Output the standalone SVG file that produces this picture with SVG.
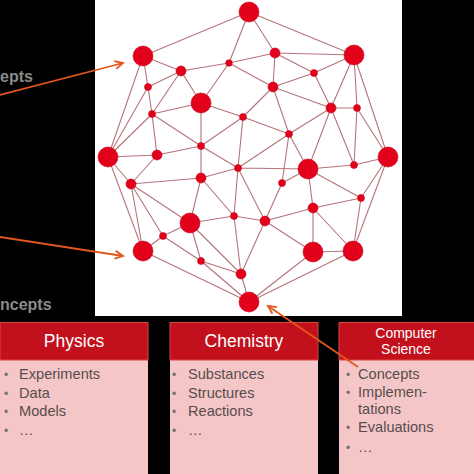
<svg xmlns="http://www.w3.org/2000/svg" width="474" height="474" viewBox="0 0 474 474">
<style>
.e{stroke:#b5737a;stroke-width:1.1;fill:none}
.n{fill:#e2001a;stroke:#c8001a;stroke-width:0.6}
.ar{stroke:#e2561f;stroke-width:1.8;fill:none}
.side{font-family:"Liberation Sans",Arial,sans-serif;font-weight:bold;font-size:16px;fill:#8a8a8a}
.hd{fill:#c2101d;stroke:#d9463f;stroke-width:1}
.bd{fill:#f5c6c7}
.ht{font-family:"Liberation Sans",Arial,sans-serif;font-size:17.5px;fill:#fff;text-anchor:middle}
.hs{font-family:"Liberation Sans",Arial,sans-serif;font-size:14px;fill:#fff;text-anchor:middle}
.bt{font-family:"Liberation Sans",Arial,sans-serif;font-size:14.6px;fill:#574d4d}
.bl{font-family:"Liberation Sans",Arial,sans-serif;font-size:12px;fill:#7a7070}
</style>
<defs>
<marker id="ah" markerUnits="userSpaceOnUse" markerWidth="12" markerHeight="12" refX="9" refY="5" orient="auto">
<path d="M1,1 L9,5 L1,9" fill="none" stroke="#e2561f" stroke-width="1.8"/>
</marker>
</defs>
<rect x="0" y="0" width="474" height="474" fill="#000"/>
<rect x="95" y="0" width="307" height="316" fill="#fff"/>
<text class="side" x="0" y="82">epts</text>
<text class="side" x="0" y="310">ncepts</text>

<g id="edges">
<path class="e" d="M249,12L143,56 M249,12L229,63 M249,12L275,53 M249,12L354,55
M143,56L181,71 M143,56L148,87 M143,56L108,157
M354,55L275,53 M354,55L314,73 M354,55L331,108 M354,55L357,108 M354,55L388,157
M108,157L148,87 M108,157L152,114 M108,157L157,155 M108,157L131,184 M108,157L143,251
M388,157L357,108 M388,157L354,165 M388,157L361,198 M388,157L353,251
M143,251L131,184 M143,251L163,236 M143,251L249,302
M353,251L361,198 M353,251L313,208 M353,251L313,252 M353,251L249,302
M249,302L201,261 M249,302L241,274 M249,302L313,252
M201,103L181,71 M201,103L229,63 M201,103L152,114 M201,103L243,117 M201,103L201,146
M308,169L238,168 M308,169L289,134 M308,169L331,108 M308,169L282,183 M308,169L354,165 M308,169L313,208 M308,169L361,198
M190,223L131,184 M190,223L201,178 M190,223L234,216 M190,223L163,236 M190,223L201,261 M190,223L241,274
M313,252L313,208 M313,252L265,221
M181,71L229,63 M181,71L148,87 M181,71L152,114
M275,53L229,63 M275,53L273,87 M275,53L314,73
M273,87L229,63 M273,87L314,73 M273,87L331,108 M273,87L243,117 M273,87L289,134
M331,108L314,73 M331,108L357,108 M331,108L289,134 M331,108L354,165
M157,155L152,114 M157,155L201,146 M157,155L131,184
M131,184L201,178 M131,184L163,236
M201,178L201,146 M201,178L238,168 M201,178L234,216
M265,221L234,216 M265,221L313,208 M265,221L241,274 M265,221L282,183 M265,221L238,168
M313,208L361,198
M241,274L234,216 M241,274L201,261
M148,87L152,114
M152,114L201,146
M243,117L201,146 M243,117L289,134 M243,117L238,168
M201,146L238,168
M289,134L238,168 M289,134L282,183
M357,108L354,165
M238,168L234,216
M163,236L201,261"/>
</g>

<g id="nA"><circle class="n" cx="249" cy="12" r="10"/></g>
<g id="nB"><circle class="n" cx="143" cy="56" r="10"/></g>
<g id="nC"><circle class="n" cx="354" cy="55" r="10"/></g>
<g id="nD"><circle class="n" cx="108" cy="157" r="10"/></g>
<g id="nE"><circle class="n" cx="388" cy="157" r="10"/></g>
<g id="nF"><circle class="n" cx="143" cy="251" r="10"/></g>
<g id="nG"><circle class="n" cx="353" cy="251" r="10"/></g>
<g id="nH"><circle class="n" cx="249" cy="302" r="10"/></g>
<g id="nI"><circle class="n" cx="201" cy="103" r="10"/></g>
<g id="nJ"><circle class="n" cx="308" cy="169" r="10"/></g>
<g id="nK"><circle class="n" cx="190" cy="223" r="10"/></g>
<g id="nL"><circle class="n" cx="313" cy="252" r="10"/></g>
<g id="m1"><circle class="n" cx="181" cy="71" r="5"/></g>
<g id="m2"><circle class="n" cx="275" cy="53" r="5"/></g>
<g id="m3"><circle class="n" cx="273" cy="87" r="5"/></g>
<g id="m4"><circle class="n" cx="331" cy="108" r="5"/></g>
<g id="m5"><circle class="n" cx="157" cy="155" r="5"/></g>
<g id="m6"><circle class="n" cx="131" cy="184" r="5"/></g>
<g id="m7"><circle class="n" cx="201" cy="178" r="5"/></g>
<g id="m8"><circle class="n" cx="265" cy="221" r="5"/></g>
<g id="m9"><circle class="n" cx="313" cy="208" r="5"/></g>
<g id="m10"><circle class="n" cx="241" cy="274" r="5"/></g>
<g id="s1"><circle class="n" cx="229" cy="63" r="3.3"/></g>
<g id="s2"><circle class="n" cx="148" cy="87" r="3.5"/></g>
<g id="s3"><circle class="n" cx="152" cy="114" r="3.5"/></g>
<g id="s4"><circle class="n" cx="314" cy="73" r="3.5"/></g>
<g id="s5"><circle class="n" cx="243" cy="117" r="3.5"/></g>
<g id="s6"><circle class="n" cx="201" cy="146" r="3.5"/></g>
<g id="s7"><circle class="n" cx="289" cy="134" r="3.5"/></g>
<g id="s8"><circle class="n" cx="357" cy="108" r="3.5"/></g>
<g id="s9"><circle class="n" cx="238" cy="168" r="3.5"/></g>
<g id="s10"><circle class="n" cx="282" cy="183" r="3.5"/></g>
<g id="s11"><circle class="n" cx="354" cy="165" r="3.5"/></g>
<g id="s12"><circle class="n" cx="361" cy="198" r="3.5"/></g>
<g id="s13"><circle class="n" cx="234" cy="216" r="3.5"/></g>
<g id="s14"><circle class="n" cx="163" cy="236" r="3.5"/></g>
<g id="s15"><circle class="n" cx="201" cy="261" r="3.5"/></g>

<g id="physics">
<rect class="bd" x="0" y="360" width="148" height="114"/>
<rect class="hd" x="0" y="322.5" width="148" height="37.5"/>
<text class="ht" x="74" y="347">Physics</text>
<text class="bl" x="4" y="379">•</text><text class="bt" x="19" y="379">Experiments</text>
<text class="bl" x="4" y="397.5">•</text><text class="bt" x="19" y="397.5">Data</text>
<text class="bl" x="4" y="416">•</text><text class="bt" x="19" y="416">Models</text>
<text class="bl" x="4" y="435">•</text><text class="bt" x="19" y="435">…</text>
</g>
<g id="chemistry">
<rect class="bd" x="170" y="360" width="148" height="114"/>
<rect class="hd" x="170" y="322.5" width="148" height="37.5"/>
<text class="ht" x="244" y="347">Chemistry</text>
<text class="bl" x="172" y="379">•</text><text class="bt" x="188" y="379">Substances</text>
<text class="bl" x="172" y="397.5">•</text><text class="bt" x="188" y="397.5">Structures</text>
<text class="bl" x="172" y="416">•</text><text class="bt" x="188" y="416">Reactions</text>
<text class="bl" x="172" y="435">•</text><text class="bt" x="188" y="435">…</text>
</g>
<g id="cs">
<rect class="bd" x="339" y="360" width="136" height="114"/>
<rect class="hd" x="339" y="322.5" width="136" height="37.5"/>
<text class="hs" x="406" y="338">Computer</text>
<text class="hs" x="406" y="354">Science</text>
<text class="bl" x="346" y="379">•</text><text class="bt" x="358" y="379">Concepts</text>
<text class="bl" x="346" y="397">•</text><text class="bt" x="358" y="397">Implemen-</text>
<text class="bt" x="358" y="413.5">tations</text>
<text class="bl" x="346" y="431.5">•</text><text class="bt" x="358" y="431.5">Evaluations</text>
<text class="bl" x="346" y="452">•</text><text class="bt" x="358" y="452">…</text>
</g>

<g id="arrows">
<line class="ar" x1="0" y1="95" x2="123" y2="63" marker-end="url(#ah)"/>
<line class="ar" x1="0" y1="237" x2="123" y2="256" marker-end="url(#ah)"/>
<line class="ar" x1="358" y1="367" x2="268" y2="306" marker-end="url(#ah)"/>
</g>
</svg>
